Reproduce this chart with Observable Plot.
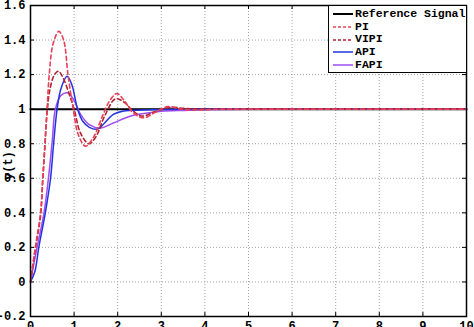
<!DOCTYPE html>
<html><head><meta charset="utf-8">
<script src="https://cdn.jsdelivr.net/npm/d3@7"></script>
<script src="https://cdn.jsdelivr.net/npm/@observablehq/plot@0.6"></script>
<style>
body{margin:0;background:#fff;}
#wrap{position:relative;width:474px;height:327px;overflow:hidden;background:#fff;}
#legend{position:absolute;left:328px;top:5px;width:139px;height:68px;border:1.5px solid #000;background:#fff;box-sizing:border-box;overflow:hidden;font:bold 11.5px "Liberation Mono",monospace;color:#000;padding-top:2px;}
#legend .row{height:12.7px;line-height:12.7px;white-space:nowrap;display:flex;align-items:center;}
#legend svg{margin-left:4px;margin-right:2px;flex:none;}
#ylab{position:absolute;left:2px;top:180px;transform:rotate(-90deg);transform-origin:left top;font:bold 12px "Liberation Mono",monospace;}
</style>
</head><body>
<div id="wrap"><div id="chart"></div><div id="legend"></div></div>
<script>
const xTicks = [0,1,2,3,4,5,6,7,8,9,10];
const yTicks = [-0.2,0,0.2,0.4,0.6,0.8,1,1.2,1.4,1.6];
const seriesNames = ["Reference Signal","PI","VIPI","API","FAPI"];
const seriesColors = ["#000000","#e8405a","#b0222e","#2233e0","#a04cf0"];

const tRef = [0, 10];
const yRef = [1, 1];

const tPI = [0,0.11,0.23,0.28,0.33,0.38,0.43,0.52,0.65,0.76,0.86,0.98,1.1,1.26,1.45,1.65,1.82,1.98,2.15,2.35,2.6,2.85,3.15,3.45,3.8,4.3,5,6,10];
const yPI = [0,0.2,0.4,0.6,0.8,1.0,1.2,1.38,1.45,1.4,1.2,1.0,0.85,0.786,0.84,0.96,1.05,1.09,1.05,0.98,0.95,0.98,1.015,1.0,0.995,1.0,1.0,1.0,1.0];

const tVIPI = [0,0.11,0.23,0.28,0.33,0.38,0.45,0.55,0.64,0.75,0.87,1.0,1.15,1.34,1.5,1.7,1.95,2.15,2.35,2.56,2.85,3.2,3.5,4,5,6,10];
const yVIPI = [0,0.19,0.38,0.58,0.78,0.98,1.12,1.2,1.22,1.18,1.1,1.0,0.86,0.8,0.84,0.96,1.06,1.04,0.99,0.96,0.985,1.01,1.005,1.0,1.0,1.0,1.0];

const tAPI = [0,0.1,0.19,0.34,0.46,0.53,0.61,0.7,0.84,0.95,1.08,1.2,1.35,1.53,1.7,1.9,2.14,2.6,3.5,5,10];
const yAPI = [0,0.06,0.2,0.4,0.6,0.8,1.0,1.12,1.19,1.14,1.0,0.93,0.895,0.884,0.92,0.97,0.99,0.995,1.0,1.0,1.0];

const tFAPI = [0,0.15,0.31,0.42,0.5,0.57,0.7,0.86,1.0,1.15,1.35,1.6,1.9,2.3,2.6,3.0,3.5,4.0,5.0,6,10];
const yFAPI = [0,0.2,0.4,0.62,0.82,1.0,1.08,1.094,1.05,0.97,0.91,0.89,0.92,0.96,0.975,0.988,0.993,0.996,0.999,1.0,1.0];

const toRows = (ts, ys, name) => ts.map((t, i) => ({t, y: ys[i], name}));
const ref = toRows(tRef, yRef, seriesNames[0]);
const pi = toRows(tPI, yPI, seriesNames[1]);
const vipi = toRows(tVIPI, yVIPI, seriesNames[2]);
const api = toRows(tAPI, yAPI, seriesNames[3]);
const fapi = toRows(tFAPI, yFAPI, seriesNames[4]);

const W = 474, H = 327, mL = 30, mR = 8, mT = 5, mB = 11;
const innerH = H - mT - mB, innerW = W - mL - mR, tk = 4;
const font = '"Liberation Mono", monospace';
const chart = Plot.plot({
  width: W, height: H,
  marginLeft: mL, marginRight: mR, marginTop: mT, marginBottom: mB,
  style: {fontFamily: font, fontSize: "12px", fontWeight: "bold", background: "#fff", overflow: "visible"},
  x: {domain: [0, 10], ticks: xTicks, label: null},
  y: {domain: [-0.2, 1.6], ticks: yTicks, label: null},
  marks: [
    Plot.gridX(xTicks.slice(1, -1), {stroke: "#999", strokeOpacity: 0.9, strokeDasharray: "1,2"}),
    Plot.gridY(yTicks.slice(1, -1), {stroke: "#999", strokeOpacity: 0.9, strokeDasharray: "1,2"}),
    Plot.axisX(xTicks, {tickSize: 0, tickPadding: 5, fill: "#000", fontWeight: "bold"}),
    Plot.axisY(yTicks, {tickSize: 0, tickPadding: 5, fill: "#000", fontWeight: "bold", tickFormat: d => String(d)}),
    Plot.ruleX(xTicks, {x: d => d, insetTop: innerH - tk, stroke: "#000"}),
    Plot.ruleX(xTicks, {x: d => d, insetBottom: innerH - tk, stroke: "#000"}),
    Plot.ruleY(yTicks, {y: d => d, insetRight: innerW - tk, stroke: "#000"}),
    Plot.ruleY(yTicks, {y: d => d, insetLeft: innerW - tk, stroke: "#000"}),
    Plot.line(ref, {x: "t", y: "y", stroke: seriesColors[0], strokeWidth: 2}),
    Plot.line(fapi, {x: "t", y: "y", stroke: seriesColors[4], strokeWidth: 1.5, curve: "catmull-rom"}),
    Plot.line(api, {x: "t", y: "y", stroke: seriesColors[3], strokeWidth: 1.5, curve: "catmull-rom"}),
    Plot.line(vipi, {x: "t", y: "y", stroke: seriesColors[2], strokeWidth: 1.6, strokeDasharray: "4,3", curve: "catmull-rom"}),
    Plot.line(pi, {x: "t", y: "y", stroke: seriesColors[1], strokeWidth: 1.6, strokeDasharray: "4,3", curve: "catmull-rom"}),
    Plot.frame({stroke: "#000", strokeWidth: 1.5})
  ]
});
document.getElementById("chart").appendChild(chart);

const legend = document.getElementById("legend");
seriesNames.forEach((n, i) => {
  const dash = (i === 1 || i === 2) ? 'stroke-dasharray="3,2"' : '';
  const row = document.createElement("div");
  row.className = "row";
  row.innerHTML = `<svg width="20" height="8"><line x1="0" y1="4" x2="20" y2="4" stroke="${seriesColors[i]}" stroke-width="${i===0?2:1.5}" ${dash}/></svg><span>${n}</span>`;
  legend.appendChild(row);
});
const yl = document.createElement("div");
yl.id = "ylab"; yl.textContent = "y(t)";
document.getElementById("wrap").appendChild(yl);
</script>
</body></html>
